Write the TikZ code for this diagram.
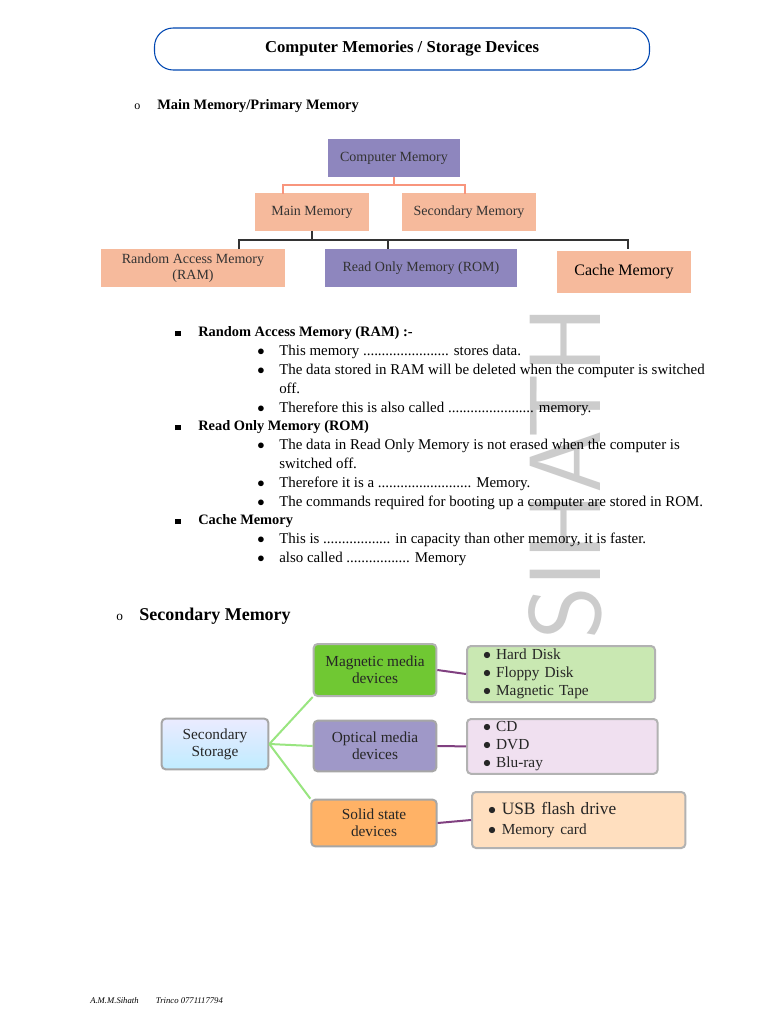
\documentclass[tikz,border=0pt]{standalone}
\usepackage{fontspec}
\setmainfont{Liberation Serif}
\newcommand{\sqb}{\rule{4pt}{4pt}}
\definecolor{pur}{HTML}{8E86BE}
\definecolor{peach}{HTML}{F6BA9C}
\begin{document}
\begin{tikzpicture}[x=0.75pt,y=-0.75pt,
  box/.style={draw=none,minimum width=#1,minimum height=37,inner sep=1pt,align=center,font=\fontsize{10.5}{11.5}\selectfont,text=black!80},
  orb/.style={box=#1,fill=peach},
  pub/.style={box=#1,fill=pur},
  txt/.style={anchor=base west,inner sep=0,font=\fontsize{11.2}{12}\selectfont},
  bld/.style={txt,font=\fontsize{10.8}{12}\selectfont\bfseries},
  sbox/.style={draw=black!35,line width=1.5pt,rounded corners=3pt,align=center,font=\fontsize{11.5}{13}\selectfont,text=black!85,minimum height=#1},
  lbox/.style={draw=black!30,line width=1.5pt,rounded corners=3pt,align=left,anchor=north west,font=\fontsize{11.5}{13.5}\selectfont,text=black!85,inner xsep=12pt,inner ysep=2pt}]
\useasboundingbox (0,0) rectangle (768,1024);
\fill[white] (0,0) rectangle (768,1024);
% watermark
\node[rotate=90,text=black!20,font=\fontsize{76}{76}\selectfont\sffamily] (wm) at (565,473) {SIHATH};
% title
\node[draw=blue!60!cyan!70!black,line width=0.8pt,rounded corners=14pt,minimum width=495*0.75pt,minimum height=42*0.75pt,font=\fontsize{12.5}{14}\selectfont\bfseries] (title) at (402,49) {Computer Memories / Storage Devices};
\node[txt] (o1) at (134,109) {\fontsize{9}{10}\selectfont o};
\node[bld] (mm) at (157,109) {Main Memory/Primary Memory};
% tree 1
\node[pub=99pt,minimum height=28pt] (cm) at (394,158) {Computer Memory};
\node[orb=86pt,minimum height=28pt] (main) at (312,212) {Main Memory};
\node[orb=101pt,minimum height=28pt] (sec) at (469,212) {Secondary Memory};
\node[orb=138pt,minimum height=29pt] (ram) at (193,268) {Random Access Memory\\(RAM)};
\node[pub=144pt,minimum height=29pt] (rom) at (421,268) {Read Only Memory (ROM)};
\node[orb=101pt,minimum height=32pt,font=\fontsize{12}{13}\selectfont,text=black] (cache) at (624,272) {Cache Memory};
\draw[peach!80!red,line width=0.8pt] (cm.south) -- (394,185) coordinate (j1);
\draw[peach!80!red,line width=0.8pt] (283,194) -- (283,185) -- (465,185) -- (465,194);
\draw[black!80,line width=0.8pt] (main.south) -- (312,240);
\draw[black!80,line width=0.8pt] (239,249) -- (239,240) -- (628,240) -- (628,249);
\draw[black!80,line width=0.8pt] (388,240) -- (388,249);
% bullets
\node[txt] (b1) at (175,336) {\sqb};
\node[bld] (h1) at (198,336) {Random Access Memory (RAM) :-};
\foreach \y/\t in {355/{This memory ....................... stores data.},374/{The data stored in RAM will be deleted when the computer is switched},412/{Therefore this is also called ....................... memory.},449/{The data in Read Only Memory is not erased when the computer is},487/{Therefore it is a ......................... Memory.},506/{The commands required for booting up a computer are stored in ROM.},543/{This is .................. in capacity than other memory, it is faster.},562/{also called ................. Memory}}
  {\node[txt] at (257,\y) {$\bullet$}; \node[txt] at (279,\y) {\t};}
\node[txt] (c1) at (279,393) {off.};
\node[txt] (c2) at (279,468) {switched off.};
\node[txt] (b2) at (175,430) {\sqb};
\node[bld] (h2) at (198,430) {Read Only Memory (ROM)};
\node[txt] (b3) at (175,524) {\sqb};
\node[bld] (h3) at (198,524) {Cache Memory};
\node[txt] (o2) at (116,620) {\fontsize{10}{10}\selectfont o};
\node[txt,font=\fontsize{13.5}{14}\selectfont\bfseries] (sm) at (139,620) {Secondary Memory};
% tree 2
\node[sbox=38pt,minimum width=80pt,top color=blue!8,bottom color=blue!30!cyan!25] (ss) at (215,744) {Secondary\\Storage};
\node[sbox=39pt,minimum width=92pt,fill=green!55!black!60!lime!80,draw=black!30] (mag) at (375,670) {Magnetic media\\devices};
\node[sbox=38pt,minimum width=92pt,fill=pur!85] (opt) at (375,746) {Optical media\\devices};
\node[sbox=35pt,minimum width=94pt,fill=orange!60!white] (sol) at (374,823) {Solid state\\devices};
\node[lbox,text width=117pt,minimum height=42pt,fill=green!40!olive!30!white] (l1) at (466,645) {$\bullet$ Hard Disk\\$\bullet$ Floppy Disk\\$\bullet$ Magnetic Tape};
\node[lbox,text width=119pt,minimum height=41pt,fill=violet!12] (l2) at (466,718) {$\bullet$ CD\\$\bullet$ DVD\\$\bullet$ Blu-ray};
\node[lbox,text width=136pt,minimum height=42pt,fill=orange!25,font=\fontsize{13}{15}\selectfont] (l3) at (471,791) {$\bullet$ USB flash drive\\{\fontsize{11.5}{13}\selectfont$\bullet$ Memory card}};
\draw[green!60!olive!50,line width=1.5pt] (ss.east) -- (mag.south west);
\draw[green!60!olive!50,line width=1.5pt] (ss.east) -- (opt.west);
\draw[green!60!olive!50,line width=1.5pt] (ss.east) -- (sol.north west);
\draw[violet!50!gray,line width=1.5pt] (mag.east) -- (l1.west);
\draw[violet!50!gray,line width=1.5pt] (opt.east) -- (l2.west);
\draw[violet!50!gray,line width=1.5pt] (sol.east) -- (l3.west);
\node[txt,font=\fontsize{6.5}{8}\selectfont\itshape] (ft) at (90,1003) {A.M.M.Sihath\qquad Trinco 0771117794};
\end{tikzpicture}
\end{document}
